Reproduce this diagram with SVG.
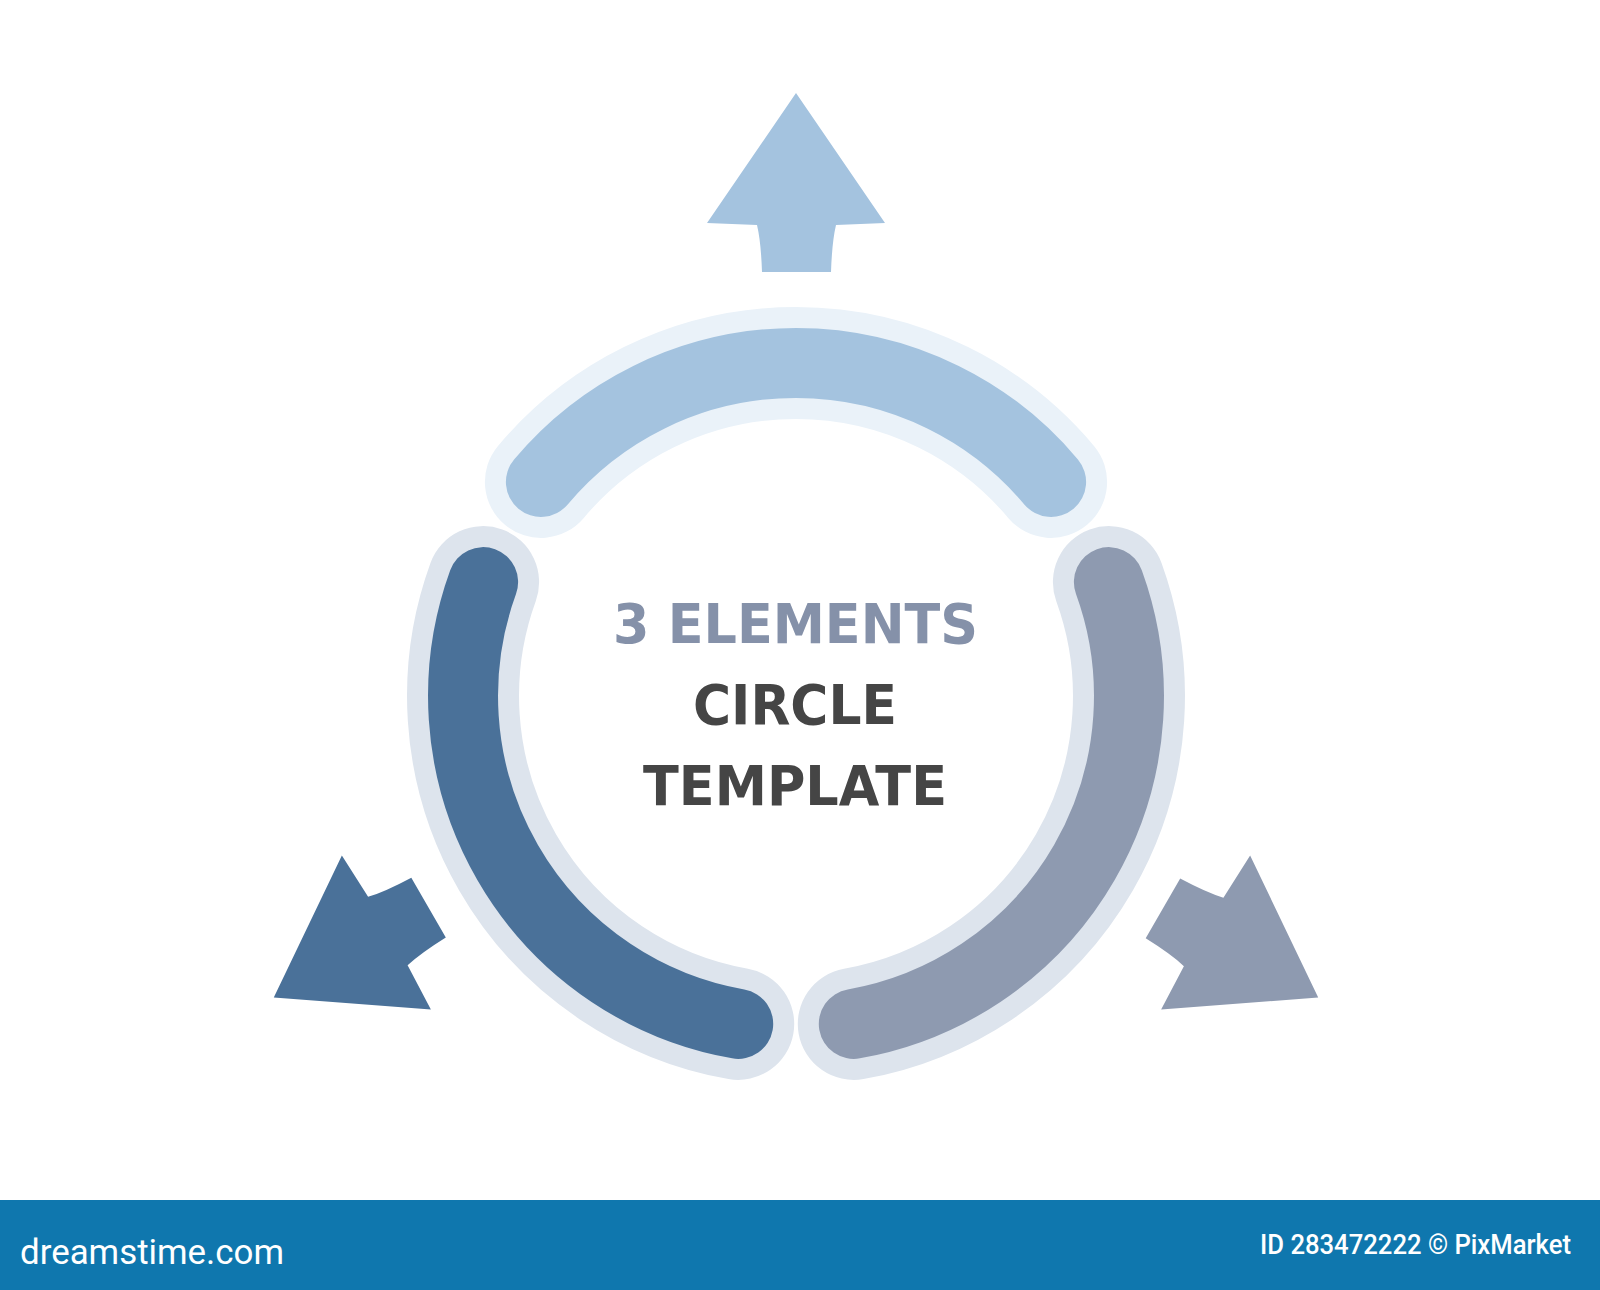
<svg xmlns="http://www.w3.org/2000/svg" xmlns:xlink="http://www.w3.org/1999/xlink" width="1600" height="1290" viewBox="0 0 1600 1290">
  <style>
    .halo { fill: none; stroke-width: 112; stroke-linecap: round; }
    .band { fill: none; stroke-width: 70; stroke-linecap: round; }
    .title { font-family: "DejaVu Sans", "Liberation Sans", sans-serif; font-weight: bold; text-anchor: middle; }
    .foot { fill: #ffffff; font-family: "Roboto", "Liberation Sans", sans-serif; }
  </style>
  <defs>
    <path id="arrowShape" d="M796,93 L885,223 L836,225 Q832,242 831,272 L762,272 Q761,242 757,225 L707,223 Z"/>
  </defs>
  <rect x="0" y="0" width="1600" height="1290" fill="#ffffff"/>

  <g id="segment-top">
    <path class="halo" stroke="#EAF2F9" d="M540.9,481.9 A333,333 0 0 1 1051.1,481.9"/>
    <path class="band" stroke="#A4C3DF" d="M540.9,481.9 A333,333 0 0 1 1051.1,481.9"/>
  </g>
  <g id="segment-left">
    <path class="halo" stroke="#DDE4ED" d="M738.2,1023.9 A333,333 0 0 1 483.1,582.1"/>
    <path class="band" stroke="#4A7199" d="M738.2,1023.9 A333,333 0 0 1 483.1,582.1"/>
  </g>
  <g id="segment-right">
    <path class="halo" stroke="#DDE4ED" d="M1108.9,582.1 A333,333 0 0 1 853.8,1023.9"/>
    <path class="band" stroke="#8E9AB0" d="M1108.9,582.1 A333,333 0 0 1 853.8,1023.9"/>
  </g>

  <g id="connectors">
    <use xlink:href="#arrowShape" href="#arrowShape" fill="#A4C3DF"/>
    <use xlink:href="#arrowShape" href="#arrowShape" fill="#4A7199" transform="rotate(-120 796 696)"/>
    <use xlink:href="#arrowShape" href="#arrowShape" fill="#8E9AB0" transform="rotate(120 796 696)"/>
  </g>

  <g id="center-title">
    <text class="title" x="795.5" y="643" font-size="55" fill="#8591A9" textLength="365" lengthAdjust="spacingAndGlyphs">3 ELEMENTS</text>
    <text class="title" x="795" y="724" font-size="55" fill="#454545" textLength="204" lengthAdjust="spacingAndGlyphs">CIRCLE</text>
    <text class="title" x="795" y="805" font-size="55" fill="#454545" textLength="304" lengthAdjust="spacingAndGlyphs">TEMPLATE</text>
  </g>

  <g id="footer">
    <rect x="0" y="1200" width="1600" height="90" fill="#0F77AE"/>
    <text class="foot" x="20" y="1264" font-size="35" font-family="DejaVu Sans, sans-serif" textLength="264" lengthAdjust="spacingAndGlyphs">dreamstime.com</text>
    <text class="foot" x="1260" y="1254" font-size="27" font-weight="500" textLength="311" lengthAdjust="spacingAndGlyphs">ID 283472222 © PixMarket</text>
  </g>
</svg>
